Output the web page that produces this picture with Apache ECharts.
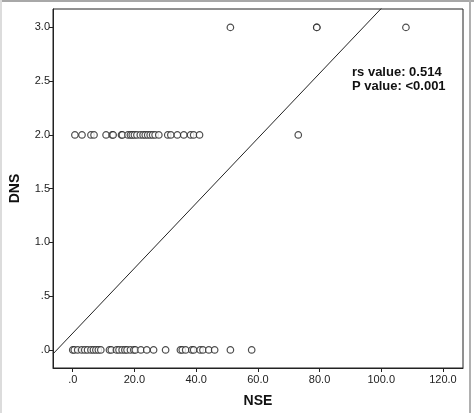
<!DOCTYPE html>
<html><head><meta charset="utf-8">
<script src="https://cdn.jsdelivr.net/npm/echarts@6/dist/echarts.min.js"></script>
<style>
html,body{margin:0;padding:0;background:#fff;}
#c{position:absolute;left:0;top:0;width:474px;height:413px;}
.b{position:absolute;}
</style></head>
<body>
<div id="c"></div>
<div class="b" style="left:0;top:0;width:474px;height:2px;background:#a8a8a8"></div>
<div class="b" style="left:0;top:0;width:2px;height:413px;background:#dcdcdc"></div>
<div class="b" style="left:469px;top:0;width:2px;height:413px;background:#b0b0b0"></div>
<script>
// NSE values at each DNS level
var nseAtDns0 = [0, 0.5, 1.6, 2.9, 3.9, 4.8, 5.9, 6.7, 7.5, 8.3, 9.1, 11.9, 12.5, 14.2, 15.0, 16.0, 16.9, 17.6, 18.7, 19.8, 20.3, 22.1, 24.0, 26.2, 30.1, 34.9, 35.5, 36.6, 38.6, 39.2, 41.3, 42.2, 44.1, 46.0, 51.1, 58.0];
var nseAtDns2 = [0.7, 3.0, 5.9, 6.9, 10.8, 12.8, 13.1, 15.8, 16.1, 17.9, 18.7, 19.3, 20.0, 20.8, 21.9, 22.8, 23.5, 24.3, 25.1, 25.9, 26.7, 27.9, 30.8, 31.8, 33.9, 36.0, 38.2, 39.2, 41.1, 73.1];
var nseAtDns3 = [51.1, 79.1, 79.1, 108.0];
var xTicks = [0, 20, 40, 60, 80, 100, 120];
var yTicks = [0, 0.5, 1.0, 1.5, 2.0, 2.5, 3.0];
var fitIntercept = 0.156;
var fitSlope = 0.0302;
var xMin = -6.4, xMax = 126.5, yMin = -0.168, yMax = 3.171;

var points = [];
nseAtDns0.forEach(function(v){ points.push([v, 0]); });
nseAtDns2.forEach(function(v){ points.push([v, 2]); });
nseAtDns3.forEach(function(v){ points.push([v, 3]); });
var fitLine = [[xMin, fitIntercept + fitSlope * xMin], [xMax, fitIntercept + fitSlope * xMax]];

function fmt(v){ var s = Number(v).toFixed(1); if (s.indexOf('0.') === 0) s = s.substring(1); return s; }

var chart = echarts.init(document.getElementById('c'));
chart.setOption({
  animation: false,
  backgroundColor: '#fff',
  grid: {left: 48, top: 9, width: 415, height: 359, show: true, borderColor: '#222', borderWidth: 1, backgroundColor: '#fff'},
  xAxis: {
    type: 'value', min: xMin, max: xMax,
    name: 'NSE', nameLocation: 'middle', nameGap: 26,
    nameTextStyle: {fontFamily: 'Liberation Sans, Arial', fontWeight: 'bold', fontSize: 14, color: '#111'},
    splitLine: {show: false},
    axisLine: {show: true, onZero: false, lineStyle: {color: '#222', width: 1}},
    axisTick: {show: true, length: 4, customValues: xTicks, lineStyle: {color: '#222'}},
    axisLabel: {customValues: xTicks, formatter: fmt, fontFamily: 'Liberation Sans, Arial', fontSize: 11, color: '#222', margin: 6}
  },
  yAxis: {
    type: 'value', min: yMin, max: yMax,
    name: 'DNS', nameLocation: 'middle', nameGap: 31, nameRotate: 90,
    nameTextStyle: {fontFamily: 'Liberation Sans, Arial', fontWeight: 'bold', fontSize: 14, color: '#111'},
    splitLine: {show: false},
    axisLine: {show: true, onZero: false, lineStyle: {color: '#222', width: 1}},
    axisTick: {show: true, length: 4, customValues: yTicks, lineStyle: {color: '#222'}},
    axisLabel: {customValues: yTicks, formatter: fmt, fontFamily: 'Liberation Sans, Arial', fontSize: 11, color: '#222', margin: 3}
  },
  graphic: [{
    type: 'text', left: 352, top: 66,
    style: {text: 'rs value: 0.514\nP value: <0.001', fontFamily: 'Liberation Sans, Arial', fontWeight: 'bold', fontSize: 13, lineHeight: 13.5, fill: '#111'}
  }],
  series: [{
    type: 'scatter', data: points, symbol: 'circle', symbolSize: 6.5,
    itemStyle: {color: '#fff', borderColor: '#222', borderWidth: 1.2}
  }, {
    type: 'line', data: fitLine, symbol: 'none', clip: true,
    lineStyle: {color: '#222', width: 1}
  }]
});
</script>
</body></html>
